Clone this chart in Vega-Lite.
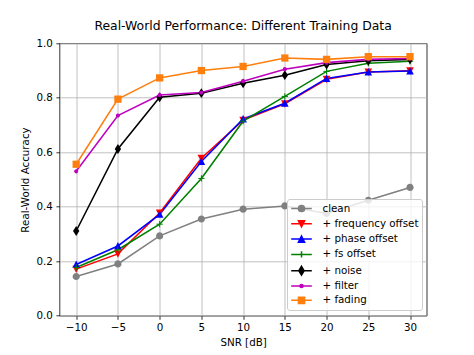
{
  "$schema": "https://vega.github.io/schema/vega-lite/v6.json",
  "width": 367.2,
  "height": 272.4,
  "autosize": {"type": "none"},
  "padding": {"left": 59.5, "top": 43.3, "right": 47.3, "bottom": 39.3},
  "background": "white",
  "title": {"text": "Real-World Performance: Different Training Data"},
  "data": {"values": [
    {"snr": -10, "acc": 0.144, "series": "clean"},
    {"snr": -5, "acc": 0.190, "series": "clean"},
    {"snr": 0, "acc": 0.293, "series": "clean"},
    {"snr": 5, "acc": 0.355, "series": "clean"},
    {"snr": 10, "acc": 0.391, "series": "clean"},
    {"snr": 15, "acc": 0.403, "series": "clean"},
    {"snr": 20, "acc": 0.375, "series": "clean"},
    {"snr": 25, "acc": 0.424, "series": "clean"},
    {"snr": 30, "acc": 0.471, "series": "clean"},
    {"snr": -10, "acc": 0.171, "series": "+ frequency offset"},
    {"snr": -5, "acc": 0.227, "series": "+ frequency offset"},
    {"snr": 0, "acc": 0.377, "series": "+ frequency offset"},
    {"snr": 5, "acc": 0.578, "series": "+ frequency offset"},
    {"snr": 10, "acc": 0.718, "series": "+ frequency offset"},
    {"snr": 15, "acc": 0.778, "series": "+ frequency offset"},
    {"snr": 20, "acc": 0.868, "series": "+ frequency offset"},
    {"snr": 25, "acc": 0.895, "series": "+ frequency offset"},
    {"snr": 30, "acc": 0.899, "series": "+ frequency offset"},
    {"snr": -10, "acc": 0.188, "series": "+ phase offset"},
    {"snr": -5, "acc": 0.256, "series": "+ phase offset"},
    {"snr": 0, "acc": 0.372, "series": "+ phase offset"},
    {"snr": 5, "acc": 0.566, "series": "+ phase offset"},
    {"snr": 10, "acc": 0.722, "series": "+ phase offset"},
    {"snr": 15, "acc": 0.780, "series": "+ phase offset"},
    {"snr": 20, "acc": 0.871, "series": "+ phase offset"},
    {"snr": 25, "acc": 0.895, "series": "+ phase offset"},
    {"snr": 30, "acc": 0.898, "series": "+ phase offset"},
    {"snr": -10, "acc": 0.177, "series": "+ fs offset"},
    {"snr": -5, "acc": 0.242, "series": "+ fs offset"},
    {"snr": 0, "acc": 0.336, "series": "+ fs offset"},
    {"snr": 5, "acc": 0.504, "series": "+ fs offset"},
    {"snr": 10, "acc": 0.714, "series": "+ fs offset"},
    {"snr": 15, "acc": 0.805, "series": "+ fs offset"},
    {"snr": 20, "acc": 0.897, "series": "+ fs offset"},
    {"snr": 25, "acc": 0.927, "series": "+ fs offset"},
    {"snr": 30, "acc": 0.934, "series": "+ fs offset"},
    {"snr": -10, "acc": 0.311, "series": "+ noise"},
    {"snr": -5, "acc": 0.612, "series": "+ noise"},
    {"snr": 0, "acc": 0.802, "series": "+ noise"},
    {"snr": 5, "acc": 0.817, "series": "+ noise"},
    {"snr": 10, "acc": 0.853, "series": "+ noise"},
    {"snr": 15, "acc": 0.883, "series": "+ noise"},
    {"snr": 20, "acc": 0.922, "series": "+ noise"},
    {"snr": 25, "acc": 0.936, "series": "+ noise"},
    {"snr": 30, "acc": 0.941, "series": "+ noise"},
    {"snr": -10, "acc": 0.530, "series": "+ filter"},
    {"snr": -5, "acc": 0.735, "series": "+ filter"},
    {"snr": 0, "acc": 0.810, "series": "+ filter"},
    {"snr": 5, "acc": 0.819, "series": "+ filter"},
    {"snr": 10, "acc": 0.861, "series": "+ filter"},
    {"snr": 15, "acc": 0.905, "series": "+ filter"},
    {"snr": 20, "acc": 0.929, "series": "+ filter"},
    {"snr": 25, "acc": 0.941, "series": "+ filter"},
    {"snr": 30, "acc": 0.944, "series": "+ filter"},
    {"snr": -10, "acc": 0.556, "series": "+ fading"},
    {"snr": -5, "acc": 0.795, "series": "+ fading"},
    {"snr": 0, "acc": 0.873, "series": "+ fading"},
    {"snr": 5, "acc": 0.900, "series": "+ fading"},
    {"snr": 10, "acc": 0.915, "series": "+ fading"},
    {"snr": 15, "acc": 0.946, "series": "+ fading"},
    {"snr": 20, "acc": 0.941, "series": "+ fading"},
    {"snr": 25, "acc": 0.951, "series": "+ fading"},
    {"snr": 30, "acc": 0.951, "series": "+ fading"}
  ]},
  "encoding": {
    "x": {"field": "snr", "type": "quantitative",
      "scale": {"domain": [-12, 32], "nice": false, "zero": false},
      "axis": {"values": [-10, -5, 0, 5, 10, 15, 20, 25, 30], "format": "d", "title": "SNR [dB]"}},
    "y": {"field": "acc", "type": "quantitative",
      "scale": {"domain": [0, 1], "nice": false},
      "axis": {"values": [0, 0.2, 0.4, 0.6, 0.8, 1.0], "format": ".1f", "title": "Real-World Accuracy"}},
    "color": {"field": "series", "type": "nominal",
      "scale": {"domain": ["clean", "+ frequency offset", "+ phase offset", "+ fs offset", "+ noise", "+ filter", "+ fading"],
                "range": ["#808080", "#ff0000", "#0000ff", "#008000", "#000000", "#bf00bf", "#ff7f0e"]},
      "legend": {
        "title": null,
        "orient": "none",
        "legendX": 227.5,
        "legendY": 155.7,
        "symbolSize": 100,
        "symbolStrokeWidth": 1.5,
        "symbolOffset": 5,
        "labelOffset": 15,
        "rowPadding": 1.3,
        "padding": 3.5,
        "fillColor": "rgba(255,255,255,0.8)",
        "strokeColor": "#cccccc",
        "cornerRadius": 2.5,
        "labelFont": "DejaVu Sans",
        "labelFontSize": 10.3,
        "labelColor": "#000000",
        "encode": {
          "symbols": {"update": {
            "shape": {"signal": "datum.value === 'clean' ? 'M-2.06,0L2.06,0M-0.62,0A0.62,0.62 0 1,0 0.62,0A0.62,0.62 0 1,0 -0.62,0Z' : datum.value === '+ frequency offset' ? 'M-2.06,0L2.06,0M-0.62,-0.62L0.62,-0.62L0,0.62Z' : datum.value === '+ phase offset' ? 'M-2.06,0L2.06,0M0,-0.62L0.62,0.62L-0.62,0.62Z' : datum.value === '+ fs offset' ? 'M-2.06,0L2.06,0M0,-0.62L0,0.62' : datum.value === '+ noise' ? 'M-2.06,0L2.06,0M0,-0.88L0.53,0L0,0.88L-0.53,0Z' : datum.value === '+ filter' ? 'M-2.06,0L2.06,0M-0.31,0A0.31,0.31 0 1,0 0.31,0A0.31,0.31 0 1,0 -0.31,0Z' : 'M-2.06,0L2.06,0M-0.62,-0.62L0.62,-0.62L0.62,0.62L-0.62,0.62Z'"},
            "fill": {"scale": "color", "field": "value"},
            "stroke": {"scale": "color", "field": "value"},
            "strokeWidth": {"value": 1.5},
            "opacity": {"value": 1},
            "fillOpacity": {"value": 1},
            "strokeOpacity": {"value": 1}
          }}
        }
      }}
  },
  "layer": [
    {"mark": {"type": "line", "strokeWidth": 1.54}},
    {"transform": [{"filter": {"field": "series", "equal": "clean"}}],
     "mark": {"type": "point", "filled": true, "opacity": 1, "size": 40, "strokeWidth": 0, "shape": "M-1.13,0A1.13,1.13 0 1,0 1.13,0A1.13,1.13 0 1,0 -1.13,0Z"}},
    {"transform": [{"filter": {"field": "series", "equal": "+ frequency offset"}}],
     "mark": {"type": "point", "filled": true, "opacity": 1, "size": 40, "strokeWidth": 0, "shape": "M-1.2,-1.1L1.2,-1.1L0,1.25Z"}},
    {"transform": [{"filter": {"field": "series", "equal": "+ phase offset"}}],
     "mark": {"type": "point", "filled": true, "opacity": 1, "size": 40, "strokeWidth": 0, "shape": "M0,-1.25L1.2,1.1L-1.2,1.1Z"}},
    {"transform": [{"filter": {"field": "series", "equal": "+ fs offset"}}],
     "mark": {"type": "point", "filled": false, "opacity": 1, "size": 40, "strokeWidth": 1, "shape": "M-1,0L1,0M0,-1L0,1"}},
    {"transform": [{"filter": {"field": "series", "equal": "+ noise"}}],
     "mark": {"type": "point", "filled": true, "opacity": 1, "size": 40, "strokeWidth": 0, "shape": "M0,-1.55L1,0L0,1.55L-1,0Z"}},
    {"transform": [{"filter": {"field": "series", "equal": "+ filter"}}],
     "mark": {"type": "point", "filled": true, "opacity": 1, "size": 40, "strokeWidth": 0, "shape": "M-0.65,0A0.65,0.65 0 1,0 0.65,0A0.65,0.65 0 1,0 -0.65,0Z"}},
    {"transform": [{"filter": {"field": "series", "equal": "+ fading"}}],
     "mark": {"type": "point", "filled": true, "opacity": 1, "size": 40, "strokeWidth": 0, "shape": "M-1.15,-1.15L1.15,-1.15L1.15,1.15L-1.15,1.15Z"}}
  ],
  "config": {
    "font": "DejaVu Sans",
    "view": {"stroke": "#000000", "strokeWidth": 0.8},
    "title": {"font": "DejaVu Sans", "fontSize": 12.4, "fontWeight": "normal", "color": "#000000", "anchor": "middle", "baseline": "alphabetic", "offset": 6.2},
    "axis": {
      "domain": false,
      "grid": true,
      "gridColor": "#b0b0b0",
      "gridWidth": 0.8,
      "ticks": true,
      "tickColor": "#000000",
      "tickWidth": 0.8,
      "tickSize": 3.6,
      "labelFont": "DejaVu Sans",
      "labelFontSize": 10.3,
      "labelColor": "#000000",
      "labelPadding": 3.6,
      "titleFont": "DejaVu Sans",
      "titleFontSize": 10.3,
      "titleFontWeight": "normal",
      "titleColor": "#000000"
    },
    "axisX": {"titlePadding": 4},
    "axisY": {"titlePadding": 5}
  }
}
